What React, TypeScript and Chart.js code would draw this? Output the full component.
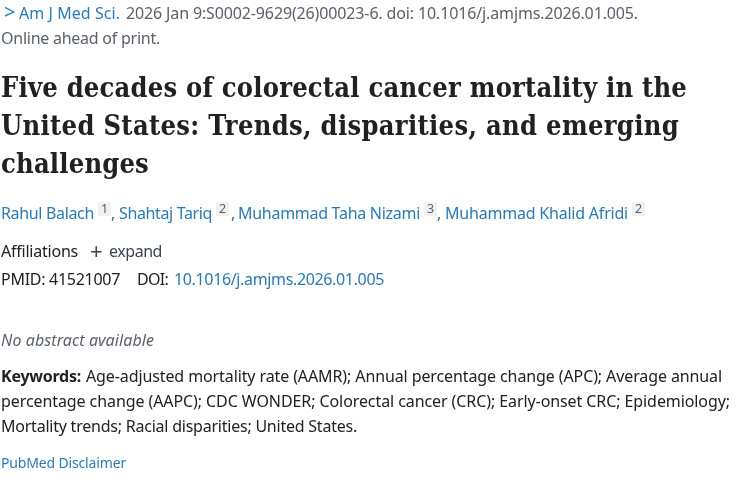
import { useEffect, useRef } from 'react'
import { Chart, registerables } from 'chart.js'

Chart.register(...registerables)

// the reference is a PubMed citation page, so there is no series data, only lines of text
const SANS = '"Noto Sans", sans-serif'
const BODY = `16px ${SANS}`
const BOLD = `bold 16px ${SANS}`
const ITALIC = `italic 16px ${SANS}`
const SMALL = `14px ${SANS}`
const SUP = `12.5px ${SANS}`
const TITLE = 'bold 27px "DejaVu Serif Condensed", "DejaVu Serif", serif'

const LINK = '#2a7ab5'
const GRAY = '#5b616b'
const DARK = '#212121'

type Run = { text: string; x: number; w: number; y: number; font: string; color: string; box?: boolean }

const citation: Run[] = [
  { text: '>', x: 4, w: 8, y: 19, font: `20px ${SANS}`, color: LINK },
  { text: 'Am J Med Sci.', x: 19, w: 101, y: 19, font: BODY, color: LINK },
  { text: '2026 Jan 9:S0002-9629(26)00023-6. doi: 10.1016/j.amjms.2026.01.005.', x: 126, w: 512, y: 19, font: BODY, color: GRAY },
  { text: 'Online ahead of print.', x: 1, w: 159, y: 44, font: BODY, color: GRAY },
]

const titleLines: Run[] = [
  { text: 'Five decades of colorectal cancer mortality in the', x: 1, w: 686, y: 97, font: TITLE, color: DARK },
  { text: 'United States: Trends, disparities, and emerging', x: 1, w: 678, y: 135, font: TITLE, color: DARK },
  { text: 'challenges', x: 1, w: 148, y: 173, font: TITLE, color: DARK },
]

const authors: Run[] = [
  { text: 'Rahul Balach', x: 1, w: 93, y: 219, font: BODY, color: LINK },
  { text: '1', x: 98, w: 13, y: 213, font: SUP, color: GRAY, box: true },
  { text: ',', x: 111, w: 3, y: 219, font: BODY, color: GRAY },
  { text: 'Shahtaj Tariq', x: 119, w: 93, y: 219, font: BODY, color: LINK },
  { text: '2', x: 216, w: 13, y: 213, font: SUP, color: GRAY, box: true },
  { text: ',', x: 231, w: 3, y: 219, font: BODY, color: GRAY },
  { text: 'Muhammad Taha Nizami', x: 238, w: 182, y: 219, font: BODY, color: LINK },
  { text: '3', x: 424, w: 13, y: 213, font: SUP, color: GRAY, box: true },
  { text: ',', x: 437, w: 3, y: 219, font: BODY, color: GRAY },
  { text: 'Muhammad Khalid Afridi', x: 445, w: 183, y: 219, font: BODY, color: LINK },
  { text: '2', x: 632, w: 13, y: 213, font: SUP, color: GRAY, box: true },
]

const meta: Run[] = [
  { text: 'Affiliations', x: 1, w: 77, y: 257, font: BODY, color: DARK },
  { text: '+', x: 90, w: 13, y: 259, font: `22px ${SANS}`, color: '#3d4551' },
  { text: 'expand', x: 109, w: 53, y: 257, font: BODY, color: '#3d4551' },
  { text: 'PMID: 41521007', x: 1, w: 119, y: 285, font: BODY, color: DARK },
  { text: 'DOI:', x: 137, w: 31, y: 285, font: BODY, color: DARK },
  { text: '10.1016/j.amjms.2026.01.005', x: 174, w: 210, y: 285, font: BODY, color: LINK },
]

const abstractLines: Run[] = [
  { text: 'No abstract available', x: 1, w: 153, y: 346, font: ITALIC, color: GRAY },
]

const keywords: Run[] = [
  { text: 'Keywords:', x: 1, w: 80, y: 382, font: BOLD, color: DARK },
  { text: 'Age-adjusted mortality rate (AAMR); Annual percentage change (APC); Average annual', x: 86, w: 636, y: 382, font: BODY, color: DARK },
  { text: 'percentage change (AAPC); CDC WONDER; Colorectal cancer (CRC); Early-onset CRC; Epidemiology;', x: 1, w: 729, y: 407, font: BODY, color: DARK },
  { text: 'Mortality trends; Racial disparities; United States.', x: 1, w: 356, y: 432, font: BODY, color: DARK },
  { text: 'PubMed Disclaimer', x: 1, w: 125, y: 468, font: SMALL, color: LINK },
]

const pageRuns = [...citation, ...titleLines, ...authors, ...meta, ...abstractLines, ...keywords]

const pageText = {
  id: 'pageText',
  afterDraw(chart: Chart) {
    const ctx = chart.ctx
    ctx.save()
    ctx.textBaseline = 'alphabetic'
    pageRuns.forEach((run) => {
      ctx.font = run.font
      ctx.letterSpacing = '0px'
      const natural = ctx.measureText(run.text).width
      if (run.box) {
        ctx.fillStyle = '#f1f1f1'
        ctx.fillRect(run.x, run.y - 11, run.w, 14)
        ctx.fillStyle = run.color
        ctx.fillText(run.text, run.x + (run.w - natural) / 2, run.y)
        return
      }
      // nudge the tracking so each run ends where it ends in the reference
      ctx.letterSpacing = `${(run.w - natural) / run.text.length}px`
      ctx.fillStyle = run.color
      ctx.fillText(run.text, run.x, run.y)
    })
    ctx.restore()
  },
}

export default function App() {
  const canvasRef = useRef<HTMLCanvasElement>(null)

  useEffect(() => {
    if (!canvasRef.current) return
    const chart = new Chart(canvasRef.current, {
      type: 'bar',
      data: { labels: [], datasets: [] },
      options: {
        responsive: false,
        animation: false,
        devicePixelRatio: 1,
        plugins: { legend: { display: false }, tooltip: { enabled: false } },
        scales: { x: { display: false }, y: { display: false } },
      },
      plugins: [pageText],
    })
    return () => chart.destroy()
  }, [])

  return (
    <div style={{ position: 'fixed', left: 0, top: 0, width: 750, height: 500, background: '#fff' }}>
      <canvas ref={canvasRef} width={750} height={500} style={{ display: 'block' }} />
    </div>
  )
}
